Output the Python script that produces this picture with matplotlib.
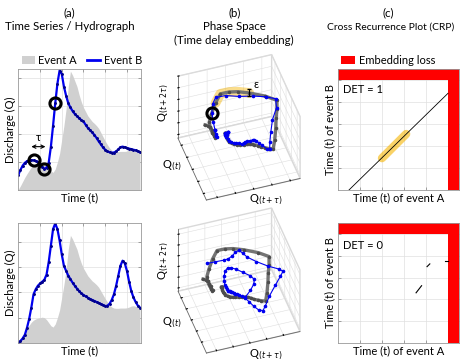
import numpy as np
import matplotlib
matplotlib.use('Agg')
import matplotlib.pyplot as plt
from matplotlib.patches import Patch
from matplotlib.lines import Line2D

plt.rcParams['font.family'] = ['Lato', 'DejaVu Sans']
plt.rcParams['mathtext.fontset'] = 'dejavusans'
plt.rcParams['grid.color'] = '0.88'
plt.rcParams['grid.linewidth'] = 0.5

# sampling grid of the hydrographs (time units)
time = np.arange(0, 113, 2)

# Event A (grey area), same in both rows
event_a = [0.02, 0.15, 0.30, 0.45, 0.58, 0.70, 0.82, 0.90, 0.95, 0.98,
           1.00, 1.02, 1.00, 0.92, 0.80, 0.68, 0.63, 0.75, 1.00, 1.30,
           1.80, 2.30, 2.90, 3.70, 4.25, 4.10, 3.90, 3.70, 3.40, 3.15,
           2.95, 2.80, 2.65, 2.55, 2.45, 2.38, 2.30, 2.20, 2.05, 1.90,
           1.75, 1.62, 1.50, 1.42, 1.38, 1.37, 1.37, 1.38, 1.38, 1.38,
           1.39, 1.42, 1.46, 1.47, 1.45, 1.43, 1.42]

# Event B, top row (similar event)
event_b_top = [0.54, 0.72, 0.87, 0.97, 1.03, 1.06, 1.07, 1.06, 1.04, 1.01,
               0.93, 0.83, 0.76, 0.80, 0.98, 1.55, 2.30, 3.10, 3.80, 4.27,
               4.15, 3.70, 3.37, 3.10, 2.95, 2.82, 2.72, 2.64, 2.57, 2.50,
               2.45, 2.33, 2.22, 2.14, 2.06, 1.97, 1.86, 1.74, 1.63, 1.52,
               1.44, 1.38, 1.35, 1.33, 1.34, 1.38, 1.45, 1.53, 1.55, 1.53,
               1.50, 1.48, 1.46, 1.44, 1.42, 1.38, 1.35]

# Event B, bottom row (different event)
event_b_bot = [0.00, 0.08, 0.18, 0.32, 0.60, 0.95, 1.40, 1.92, 2.12, 2.26,
               2.35, 2.42, 2.50, 2.70, 3.20, 3.85, 4.50, 4.72, 4.50, 4.05,
               3.50, 3.05, 2.85, 2.66, 2.52, 2.38, 2.26, 2.15, 2.05, 1.96,
               1.90, 1.84, 1.79, 1.74, 1.70, 1.66, 1.62, 1.58, 1.54, 1.50,
               1.46, 1.47, 1.55, 1.70, 1.92, 2.25, 2.65, 3.05, 3.25, 3.15,
               2.85, 2.42, 2.05, 1.80, 1.62, 1.48, 1.40]

tau = 5                      # delay in samples
circle_idx = [7, 12, 17]     # Q(t), Q(t+tau), Q(t+2tau) on event B
band_idx = (13, 18)          # highlighted neighbourhood in phase space

# cross recurrence plots (time of A, time of B)
crp_len = 110
crp_valid = 100
crp_top_a = [10, 100]
crp_top_b = [0, 88]
crp_hi_a = [40, 62]
crp_hi_b = [29, 51]
crp_bot_a = [[71, 76], [81, 83.5], [97, 100]]
crp_bot_b = [[46, 52.5], [70, 72.5], [75.5, 75.5]]

GREY = '#d0d0d0'
BLUE = '#0000f0'
FS = 8
W, H = 474, 364

fig = plt.figure(figsize=(4.74, 3.64), dpi=100)


def style_2d(ax, xlim, ylim, xticks, yticks):
    ax.set_xlim(*xlim)
    ax.set_ylim(*ylim)
    ax.set_xticks(xticks)
    ax.set_yticks(yticks)
    ax.tick_params(direction='in', length=2, width=0.5, colors='0.5',
                   labelbottom=False, labelleft=False, top=True, right=True)
    ax.grid(True)
    ax.set_axisbelow(True)
    for s in ax.spines.values():
        s.set_color('0.6')
        s.set_linewidth(0.6)


# ---- (a) hydrographs
rows = [(0.478, 0.332, event_b_top, 4.32), (0.0577, 0.3297, event_b_bot, 4.74)]
ax_a = []
for bottom, height, ev_b, ymax in rows:
    ax = fig.add_axes([0.0386, bottom, 0.259, height])
    ax.fill_between(time, event_a, color=GREY, lw=0)
    ax.plot(time, ev_b, color=BLUE, lw=1.6, marker='.', ms=2.2, mfc='#00008b', mec='#00008b')
    style_2d(ax, (0, 113), (0, ymax), [20, 40, 60, 80, 100], [1, 2, 3, 4])
    ax.set_ylabel('Discharge (Q)', fontsize=FS, labelpad=2)
    ax.set_xlabel('Time (t)', fontsize=FS, labelpad=2)
    ax_a.append(ax)

ax = ax_a[0]
eb = np.asarray(event_b_top)
ax.plot(time[circle_idx], eb[circle_idx], 'o', ms=8, mfc='none', mec='k', mew=2.2)
ax.annotate('', xy=(time[circle_idx[1]] + 1, 1.55), xytext=(time[circle_idx[0]] - 2, 1.55),
            arrowprops=dict(arrowstyle='<->', lw=0.8, mutation_scale=6, shrinkA=0, shrinkB=0))
ax.text((time[circle_idx[0]] + time[circle_idx[1]]) / 2, 1.68, 'τ', ha='center', va='bottom', fontsize=FS)
handles = [Patch(facecolor=GREY, edgecolor='none', label='Event A'),
           Line2D([], [], color=BLUE, lw=2, label='Event B')]
ax.legend(handles=handles, loc='lower left', bbox_to_anchor=(0.0, 1.0), ncol=2, frameon=False,
          fontsize=FS, handlelength=1.2, handletextpad=0.3, columnspacing=0.9,
          borderaxespad=0.2, borderpad=0.1)

# ---- (b) phase space
ea = np.asarray(event_a)
# box target in pixels: left, right, top, bottom
rows_b = [((178, 300, 55, 200), event_b_top, 4.32, True),
          ((178, 300, 208, 353), event_b_bot, 4.74, False)]
ax_b = []
for target, ev_b, lim, first in rows_b:
    ax = fig.add_axes([0.30, 0.3, 0.40, 0.40], projection='3d')
    ax.set_facecolor((1, 1, 1, 0))
    ax.set_proj_type('ortho')
    ax.computed_zorder = False
    eb = np.asarray(ev_b)
    n = len(ea) - 2 * tau
    # x = Q(t+tau), y = Q(t), z = Q(t+2tau)
    ax.plot(ea[tau:tau + n], ea[:n], ea[2 * tau:], color='0.45', lw=2.4,
            marker='.', ms=3, mfc='0.3', mec='0.3', zorder=2)
    if first:
        i0, i1 = band_idx
        ax.plot(ea[tau + i0:tau + i1], ea[i0:i1], ea[2 * tau + i0:2 * tau + i1],
                color='#f5b400', alpha=0.45, lw=7, solid_capstyle='round', zorder=1)
        xe, ye, ze = ea[tau + i1 - 1], ea[i1 - 1], ea[2 * tau + i1 - 1]
        ax.plot([xe, xe], [ye, ye], [ze - 0.3, ze + 0.3], color='k', lw=0.7,
                marker='_', ms=3, zorder=5)
        ax.text(xe + 0.25, ye, ze + 0.35, 'ε', fontsize=FS, zorder=6)
    ax.plot(eb[tau:tau + n], eb[:n], eb[2 * tau:], color=BLUE, lw=0.8,
            marker='.', ms=3.2, zorder=3)
    if first:
        c = circle_idx[0]
        ax.plot([eb[c + tau]], [eb[c]], [eb[c + 2 * tau]], 'o', ms=8, mfc='none',
                mec='k', mew=2.2, zorder=6)
    lo_xy, hi_xy = -0.6, lim * 1.05
    lo_z, hi_z = -0.3, lim * 1.15
    # invisible corners of the box, used to place the axes
    cx, cy, cz = np.meshgrid([lo_xy, hi_xy], [lo_xy, hi_xy], [lo_z, hi_z])
    corners, = ax.plot(cx.ravel(), cy.ravel(), cz.ravel(), ls='none', marker='.', alpha=0)
    ax.set_xlim(lo_xy, hi_xy)
    ax.set_ylim(hi_xy, lo_xy)
    ax.set_zlim(lo_z, hi_z)
    ax.set_xticks([0, 1, 2, 3, 4])
    ax.set_yticks([0, 1, 2, 3, 4])
    ax.set_zticks([0, 1, 2, 3, 4, 5])
    for axis in (ax.xaxis, ax.yaxis, ax.zaxis):
        axis.set_pane_color((1, 1, 1, 1))
        axis.pane.set_edgecolor('0.85')
        axis.set_ticklabels([])
        axis.line.set_color('0.4')
        axis.line.set_linewidth(0.6)
        axis._axinfo['grid'].update(color=(0.87, 0.87, 0.87, 1), linewidth=0.4)
        axis._axinfo['tick'].update(inward_factor=0.0, outward_factor=0.15)
    ax.view_init(elev=45, azim=-108)
    ax.set_box_aspect((1.07, 1, 0.95))
    ax_b.append((ax, corners, target))

# scale and move each 3D axes so that its box lands on the target region
fig.canvas.draw()
for ax, corners, (tl, tr, tt, tb) in ax_b:
    pts = corners.get_transform().transform(corners.get_xydata())
    bx0, bx1 = pts[:, 0].min(), pts[:, 0].max()
    by0, by1 = pts[:, 1].min(), pts[:, 1].max()
    pos = ax.get_position()
    cxp = (pos.x0 + pos.width / 2) * W
    cyp = (pos.y0 + pos.height / 2) * H
    s = (tb - tt) / (by1 - by0)
    tcx, tcy = (tl + tr) / 2, H - (tt + tb) / 2
    ncx = tcx - s * ((bx0 + bx1) / 2 - cxp)
    ncy = tcy - s * ((by0 + by1) / 2 - cyp)
    nw, nh = pos.width * s, pos.height * s
    ax.set_position([ncx / W - nw / 2, ncy / H - nh / 2, nw, nh])

for y_z, y_y, y_x in [(103, 166, 200), (261, 323, 355)]:
    fig.text(164 / W, 1 - y_z / H, r'Q$_{(t+2\tau)}$', rotation=90, ha='center', va='center', fontsize=FS)
    fig.text(172 / W, 1 - y_y / H, r'Q$_{(t)}$', ha='center', va='center', fontsize=FS)
    fig.text(266 / W, 1 - y_x / H, r'Q$_{(t+\tau)}$', ha='center', va='center', fontsize=FS)

# ---- (c) cross recurrence plots
ax_c = []
for bottom, height in [(0.478, 0.332), (0.0577, 0.3297)]:
    ax = fig.add_axes([0.713, bottom, 0.2553, height])
    ax.axvspan(crp_valid, crp_len, color='#ff0000', lw=0)
    ax.axhspan(crp_valid, crp_len, color='#ff0000', lw=0)
    style_2d(ax, (0, crp_len), (0, crp_len), [20, 40, 60, 80, 100], [20, 40, 60, 80, 100])
    ax.set_ylabel('Time (t) of event B', fontsize=FS, labelpad=2)
    ax.set_xlabel('Time (t) of event A', fontsize=FS, labelpad=2)
    ax_c.append(ax)

ax = ax_c[0]
ax.plot(crp_hi_a, crp_hi_b, color='#f5b400', alpha=0.6, lw=6, solid_capstyle='round')
ax.plot(crp_top_a, crp_top_b, color='k', lw=0.6)
ax.text(0.04, 0.83, 'DET = 1', transform=ax.transAxes, fontsize=FS, va='center')
ax.legend(handles=[Patch(facecolor='#ff0000', edgecolor='none', label='Embedding loss')],
          loc='lower left', bbox_to_anchor=(0.0, 1.0), frameon=False, fontsize=FS,
          handlelength=1.2, handletextpad=0.4, borderaxespad=0.2, borderpad=0.1)

ax = ax_c[1]
for sa, sb in zip(crp_bot_a, crp_bot_b):
    ax.plot(sa, sb, color='k', lw=0.8)
ax.text(0.04, 0.81, 'DET = 0', transform=ax.transAxes, fontsize=FS, va='center')

# ---- titles
TS = 8.3
fig.text(69 / W, 1 - 13 / H, '(a)', ha='center', va='center', fontsize=TS)
fig.text(70 / W, 1 - 27 / H, 'Time Series / Hydrograph', ha='center', va='center', fontsize=TS)
fig.text(235 / W, 1 - 13 / H, '(b)', ha='center', va='center', fontsize=TS)
fig.text(234 / W, 1 - 26 / H, 'Phase Space', ha='center', va='center', fontsize=TS)
fig.text(234 / W, 1 - 40 / H, '(Time delay embedding)', ha='center', va='center', fontsize=TS)
fig.text(388 / W, 1 - 13 / H, '(c)', ha='center', va='center', fontsize=TS)
fig.text(391 / W, 1 - 27 / H, 'Cross Recurrence Plot (CRP)', ha='center', va='center', fontsize=7.4)

fig.savefig('out.png', dpi=100)
